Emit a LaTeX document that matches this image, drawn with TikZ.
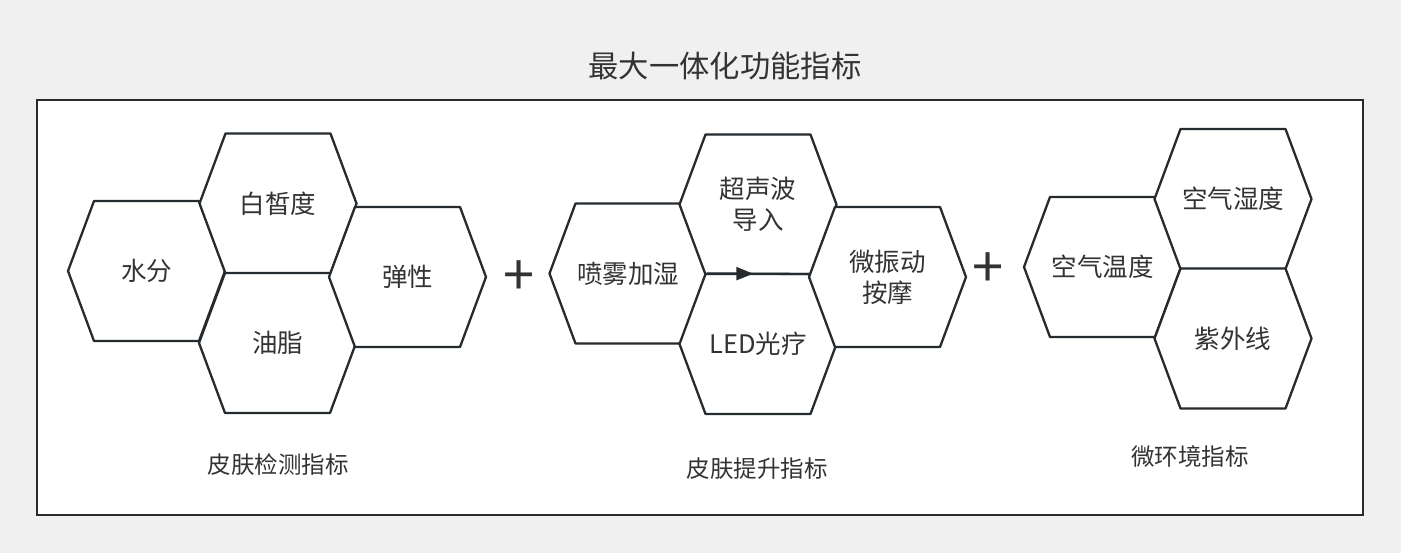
\documentclass[tikz,border=0pt]{standalone}
\usepackage{fontspec}
\setmainfont{Noto Sans CJK SC}
\usetikzlibrary{positioning, calc, arrows.meta, decorations.markings}
\definecolor{edgegray}{HTML}{262B2F}
\definecolor{textgray}{HTML}{333333}
\definecolor{pagegray}{HTML}{F0F0F0}

\begin{document}
\begin{tikzpicture}[x=1pt, y=-1pt,
		cellline/.style={draw=edgegray, line width=2.3pt, line join=round, fill=white},
		frameline/.style={draw=edgegray, line width=2pt, fill=white},
		cell/.style={text=textgray, font=\fontsize{25.5}{31}\selectfont, align=center, inner sep=0pt},
		caption/.style={text=textgray, font=\fontsize{23.5}{28}\selectfont, inner sep=0pt},
		plussign/.style={text=textgray, font=\fontsize{56}{60}\selectfont, inner sep=0pt},
		flowline/.style={draw=edgegray, line width=2.3pt,
			decoration={markings, mark=at position 0.45 with {\arrow{Triangle[length=17pt,width=13pt]}}},
			postaction={decorate}}]
		\useasboundingbox (0,0) rectangle (1401,553);
		\fill[pagegray] (0,0) rectangle (1401,553);
		\draw[frameline] (37,100) rectangle (1363,515);

		\node[text=textgray, font=\fontsize{30.3}{36}\selectfont, inner sep=0pt] (title) at (725,66) {最大一体化功能指标};

		% hexagon cells: name / centre x / centre y / text
		\foreach \nm/\cx/\cy/\txt in {
			water/146.5/271/水分, white/278/203.5/白皙度, oil/277.5/343/油脂, elastic/407.5/277/弹性,
			spray/628/273.5/喷雾加湿, ultra/758/204.5/{超声波\\导入}, led/758/344/LED光疗, massage/887.5/277/{微振动\\按摩},
			temp/1102.5/267/空气温度, humid/1233/199/空气湿度, uv/1233/338.5/紫外线}
		{
			\draw[cellline] (\cx-78.5,\cy) -- ++(26,-70) -- ++(105,0) -- ++(26,70) -- ++(-26,70) -- ++(-105,0) -- cycle;
			\node[cell] (\nm) at (\cx,\cy) {\txt};
		}

		\coordinate (flowstart) at ($ (spray) + (78.5,0) $);
		\coordinate (flowend) at ($ (led) + (52.5,-70) $);
		\draw[flowline] (flowstart) -- (flowend);

		\node[plussign] (plusone) at (519,278) {+};
		\node[plussign] (plustwo) at (988,270) {+};

		\node[caption] (detectcap) at (278,465) {皮肤检测指标};
		\node[caption] (liftcap) at (757,469) {皮肤提升指标};
		\node[caption] (envcap) at (1190,457) {微环境指标};
\end{tikzpicture}
\end{document}
